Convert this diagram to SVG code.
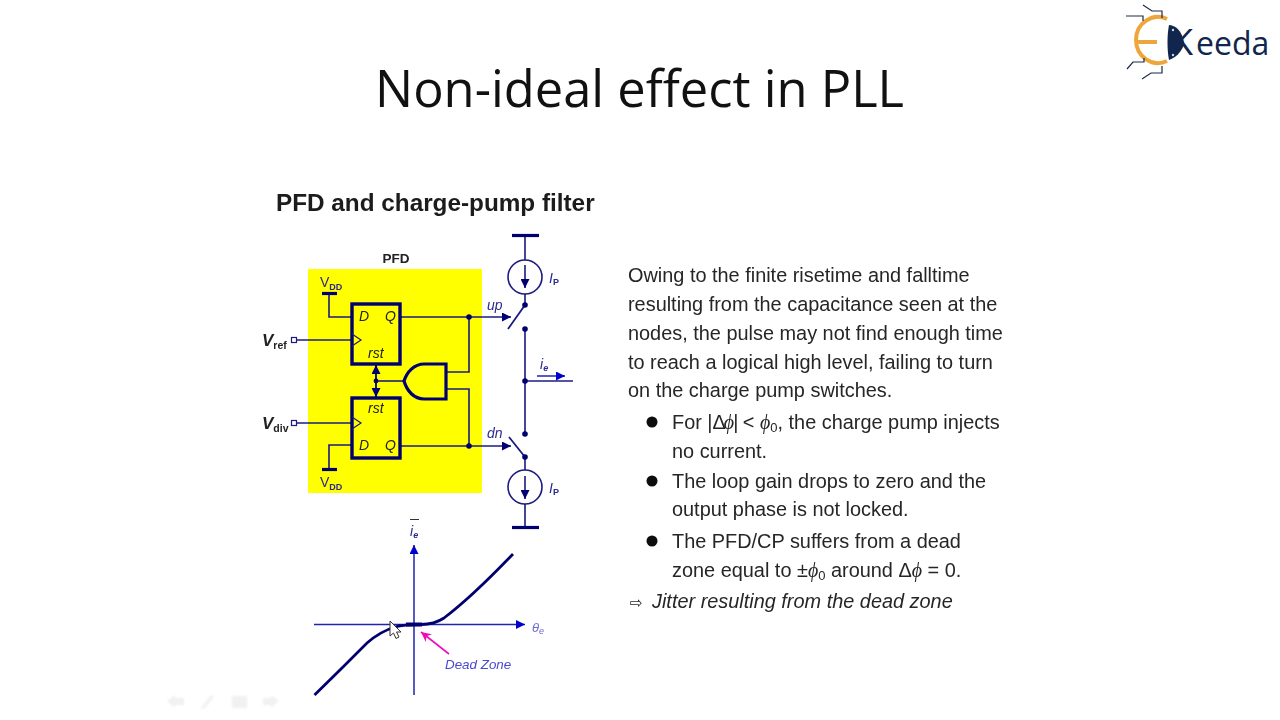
<svg xmlns="http://www.w3.org/2000/svg" width="1280" height="720" viewBox="0 0 1280 720">
<defs>
<filter id="soft" x="-5%" y="-5%" width="110%" height="110%"><feGaussianBlur stdDeviation="0.45"/></filter>
<filter id="faint" x="-20%" y="-20%" width="140%" height="140%"><feGaussianBlur stdDeviation="1.2"/></filter>
<marker id="blueArrow" viewBox="0 0 10 10" refX="10" refY="5" markerWidth="12" markerHeight="9" markerUnits="userSpaceOnUse" orient="auto-start-reverse"><path d="M0 0L10 5L0 10Z" fill="#0000cc"/></marker>
<marker id="navyArrow" viewBox="0 0 10 10" refX="10" refY="5" markerWidth="10" markerHeight="9" markerUnits="userSpaceOnUse" orient="auto-start-reverse"><path d="M0 0L10 5L0 10Z" fill="#000070"/></marker>
<marker id="pinkArrow" viewBox="0 0 10 10" refX="10" refY="5" markerWidth="12" markerHeight="10" markerUnits="userSpaceOnUse" orient="auto"><path d="M0 0L10 5L0 10L3 5Z" fill="#ee11bb"/></marker>
</defs>
<style>
text{font-family:"Liberation Sans",Arial,sans-serif}
.title{font-family:"Open Sans",sans-serif;font-size:52px;fill:#111}
.head{font-size:24.3px;font-weight:bold;fill:#1a1a1a}
.body{font-size:19.9px;fill:#262626}
.ser{font-family:"Liberation Serif",serif;font-style:italic}
.wire{fill:none;stroke:#1a1a80;stroke-width:1.6}
.heavy{fill:none;stroke:#000070;stroke-width:3.2}
.dot{fill:#000070}
.ff{fill:none;stroke:#000070;stroke-width:3.4}
.lab{font-style:italic;fill:#2a2a90;font-size:14px}
.labk{font-style:italic;font-weight:bold;fill:#222;font-size:17px}
.sub{font-weight:bold;font-style:normal;font-size:10.5px}
.ax{fill:none;stroke:#2020b0;stroke-width:1.5}
.nav{fill:#f1f1f1}
</style>
<rect width="1280" height="720" fill="#ffffff"/>
<text class="title" x="375" y="107" textLength="529" lengthAdjust="spacingAndGlyphs">Non-ideal effect in PLL</text>

<g id="logo">
<path d="M1167 19A22 23 0 1 0 1167 61" fill="none" stroke="#eea63a" stroke-width="4"/>
<path d="M1137 42H1157" fill="none" stroke="#eea63a" stroke-width="4"/>
<path d="M1126 16H1143V21M1143 5L1152 11H1162V18M1127 69L1133 62H1144V58M1142 79L1151 73H1162V66" fill="none" stroke="#1c2b4a" stroke-width="1.2"/>
<text style="font-family:'Open Sans',sans-serif;fill:#10264d"><tspan x="1171" y="55" font-size="36">K</tspan><tspan x="1196" y="55" font-size="32">eeda</tspan></text>
<path d="M1169 25C1181 26 1184 40 1184 44C1182 52 1175 58 1169 60C1167 50 1167 35 1169 25Z" fill="#10264d"/>
<circle cx="1173" cy="30" r="1.2" fill="#cfd6e0"/><circle cx="1173" cy="55" r="1.2" fill="#cfd6e0"/>
</g>

<g filter="url(#soft)">
<text class="head" x="276" y="211">PFD and charge-pump filter</text>

<g id="pfd-box">
<rect x="308" y="269" width="174" height="224" fill="#ffff00"/>
<text x="396" y="263" text-anchor="middle" font-size="13.5" font-weight="bold" fill="#222">PFD</text>
</g>

<g id="connectors">
<path class="wire" d="M329 293V317H352"/>
<path class="wire" d="M329 469V445H352"/>
<path class="wire" d="M297 340H352"/>
<path class="wire" d="M297 423H352"/>
<path class="wire" d="M400 317H511" marker-end="url(#navyArrow)"/>
<path class="wire" d="M400 446H511" marker-end="url(#navyArrow)"/>
<path class="wire" d="M447 372H469V317"/>
<path class="wire" d="M447 389H469V446"/>
<path class="wire" d="M376 381H404"/>
<path class="heavy" style="stroke-width:1.8" d="M376 365V397" marker-start="url(#navyArrow)" marker-end="url(#navyArrow)"/>
<path class="wire" d="M525 235V260M525 294V305M525 329V434M525 457V470M525 504V527"/>
<path class="wire" style="stroke-width:1.8" d="M508 329L525 305M509 437L525 457"/>
<path class="wire" d="M525 381H573"/>
<path class="ax" d="M537 376H565" marker-end="url(#blueArrow)"/>
</g>

<g id="ff-top">
<rect class="ff" x="352" y="304" width="48" height="60"/>
<path d="M352 334L361 340L352 346" fill="none" stroke="#1a1a80" stroke-width="1.2"/>
<text class="lab" x="359" y="321" style="fill:#222">D</text>
<text class="lab" x="385" y="321" style="fill:#222">Q</text>
<text class="lab" x="368" y="358" style="fill:#222">rst</text>
</g>
<g id="ff-bottom">
<rect class="ff" x="352" y="398" width="48" height="60"/>
<path d="M352 417L361 423L352 429" fill="none" stroke="#1a1a80" stroke-width="1.2"/>
<text class="lab" x="359" y="450" style="fill:#222">D</text>
<text class="lab" x="385" y="450" style="fill:#222">Q</text>
<text class="lab" x="368" y="413" style="fill:#222">rst</text>
</g>
<g id="and-gate">
<path class="heavy" d="M446 364H424C414 364 407 372 404 381C407 391 414 399 424 399H446Z"/>
</g>

<g id="inputs">
<rect x="291.500" y="337.500" width="5" height="5" fill="#fff" stroke="#1a1a80" stroke-width="1.2"/>
<rect x="291.500" y="420.500" width="5" height="5" fill="#fff" stroke="#1a1a80" stroke-width="1.2"/>
<text class="labk" x="262" y="346">V<tspan class="sub" dy="3">ref</tspan></text>
<text class="labk" x="262" y="429">V<tspan class="sub" dy="3">div</tspan></text>
</g>
<g id="vdd-top">
<path class="heavy" d="M322 293.500H337"/>
<text class="lab" x="320" y="287" style="font-style:normal">V<tspan font-size="9" font-weight="bold" dy="3">DD</tspan></text>
</g>
<g id="vdd-bottom">
<path class="heavy" d="M322 469.500H337"/>
<text class="lab" x="320" y="487" style="font-style:normal">V<tspan font-size="9" font-weight="bold" dy="3">DD</tspan></text>
</g>

<g id="dots">
<circle class="dot" cx="469" cy="317" r="2.8"/>
<circle class="dot" cx="469" cy="446" r="2.8"/>
<circle class="dot" cx="376" cy="381" r="2.4"/>
<circle class="dot" cx="525" cy="305" r="2.8"/>
<circle class="dot" cx="525" cy="329" r="2.8"/>
<circle class="dot" cx="525" cy="381" r="2.8"/>
<circle class="dot" cx="525" cy="434" r="2.8"/>
<circle class="dot" cx="525" cy="457" r="2.8"/>
</g>

<g id="source-top">
<path class="heavy" d="M512 235.500H539"/>
<circle cx="525" cy="277" r="17" fill="none" stroke="#1a1a80" stroke-width="1.6"/>
<path class="wire" d="M525 265V288" marker-end="url(#navyArrow)"/>
<text class="lab" x="549" y="283">I<tspan font-size="9" font-weight="bold" style="font-style:normal" dy="2">P</tspan></text>
</g>
<g id="source-bottom">
<path class="heavy" d="M512 527.500H539"/>
<circle cx="525" cy="487" r="17" fill="none" stroke="#1a1a80" stroke-width="1.6"/>
<path class="wire" d="M525 476V499" marker-end="url(#navyArrow)"/>
<text class="lab" x="549" y="493">I<tspan font-size="9" font-weight="bold" style="font-style:normal" dy="2">P</tspan></text>
</g>
<text class="lab" x="487" y="310">up</text>
<text class="lab" x="487" y="438">dn</text>
<text class="lab" x="540" y="369">i<tspan font-size="9" font-weight="bold" dy="2">e</tspan></text>

<g id="graph">
<path class="ax" d="M414 695V545" marker-end="url(#blueArrow)"/>
<path class="ax" d="M314 624.500H525" marker-end="url(#blueArrow)"/>
<path d="M314.500 695L343 667L367 643C375 636 385 630 395 627C402 625 410 624.500 421 624.500C430 624.500 438 622 444 618C468 600 490 578 513 554" fill="none" stroke="#000070" stroke-width="2.8"/>
<path d="M406 624.500H422" stroke="#000070" stroke-width="4" fill="none"/>
<path d="M449 654L421 632" stroke="#ee11bb" stroke-width="1.6" fill="none" marker-end="url(#pinkArrow)"/>
<text x="445" y="669" font-size="13.400" font-style="italic" fill="#4a4ad0">Dead Zone</text>
<text class="lab" x="532" y="632" style="font-size:13px;fill:#6a6ad0">θ<tspan font-size="9" dy="2">e</tspan></text>
<text class="lab" x="410" y="536">i<tspan font-size="9" font-weight="bold" dy="2">e</tspan></text>
<path d="M410 519.500H419" stroke="#333" stroke-width="1"/>
</g>
<path id="cursor" d="M390 621V636L393.500 633L396 638.500L399 637L396.500 632H401Z" fill="#fff" stroke="#333" stroke-width="1"/>

<g id="explanation">
<text class="body" x="628" y="282">Owing to the finite risetime and falltime</text>
<text class="body" x="628" y="311">resulting from the capacitance seen at the</text>
<text class="body" x="628" y="340">nodes, the pulse may not find enough time</text>
<text class="body" x="628" y="369">to reach a logical high level, failing to turn</text>
<text class="body" x="628" y="397">on the charge pump switches.</text>
<circle cx="652" cy="422" r="5.500" fill="#111"/>
<text class="body" x="672" y="429">For |Δ<tspan class="ser" dx="-2">ϕ</tspan><tspan dx="-1">| </tspan><tspan dx="-1">&lt; </tspan><tspan class="ser">ϕ</tspan><tspan font-size="13" dy="3">0</tspan><tspan dy="-3">, the charge pump injects</tspan></text>
<text class="body" x="672" y="458">no current.</text>
<circle cx="652" cy="481" r="5.500" fill="#111"/>
<text class="body" x="672" y="488">The loop gain drops to zero and the</text>
<text class="body" x="672" y="516">output phase is not locked.</text>
<circle cx="652" cy="541" r="5.500" fill="#111"/>
<text class="body" x="672" y="548">The PFD/CP suffers from a dead</text>
<text class="body" x="672" y="577">zone equal to ±<tspan class="ser">ϕ</tspan><tspan font-size="13" dy="3">0</tspan><tspan dy="-3"> around Δ</tspan><tspan class="ser">ϕ</tspan> = 0.</text>
<text class="body" x="630" y="608" style="font-size:15px;font-family:'DejaVu Sans',sans-serif">⇨</text>
<text class="body" x="652" y="608" font-style="italic">Jitter resulting from the dead zone</text>
</g>
</g>

<g id="slide-nav" filter="url(#faint)">
<path class="nav" d="M167 701L175 695V698H184V705H175V708Z"/>
<path class="nav" d="M201 708L211 695L214 697L204 709Z"/>
<rect class="nav" x="232" y="696" width="15" height="12"/>
<path class="nav" d="M279 701L271 695V698H263V705H271V708Z"/>
</g>
</svg>
